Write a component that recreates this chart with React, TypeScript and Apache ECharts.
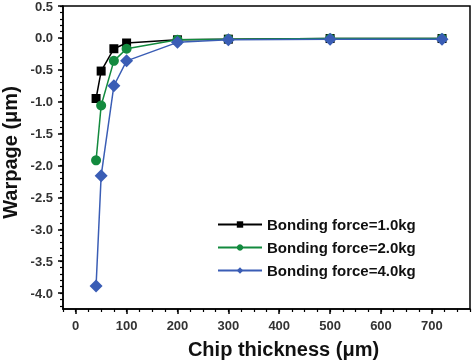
import React, { useEffect, useRef } from "react";
import * as echarts from "echarts";

const thickness = [40, 50, 75, 100, 200, 300, 500, 720];
const force10 = [-0.95, -0.52, -0.17, -0.08, -0.03, -0.02, -0.01, -0.01];
const force20 = [-1.92, -1.06, -0.36, -0.17, -0.03, -0.02, -0.01, -0.01];
const force40 = [-3.89, -2.16, -0.75, -0.36, -0.07, -0.03, -0.02, -0.02];
const seriesNames = ["Bonding force=1.0kg", "Bonding force=2.0kg", "Bonding force=4.0kg"];
const xMajor = [0, 100, 200, 300, 400, 500, 600, 700];
const yMajor = [0.5, 0.0, -0.5, -1.0, -1.5, -2.0, -2.5, -3.0, -3.5, -4.0];

const X_MIN = -25, X_MAX = 775, Y_MIN = -4.25, Y_MAX = 0.5;

const xMinor: number[] = [];
for (let i = -1; i <= 31; i++) xMinor.push(i * 25);
const yMinor: number[] = [];
for (let i = -42; i <= 5; i++) yMinor.push(Math.round(i) / 10);

const FONT = "'Liberation Sans', Arial, sans-serif";

export default function App() {
  const ref = useRef<HTMLDivElement>(null);
  useEffect(() => {
    if (!ref.current) return;
    const chart = echarts.init(ref.current, undefined, { renderer: "svg" });
    const mk = (ys: number[]) => thickness.map((x, i) => [x, ys[i]]);
    chart.setOption({
      animation: false,
      grid: {
        left: 63, right: 4, top: 6, bottom: 54,
        outerBoundsMode: "none", containLabel: false,
        show: true, borderColor: "#000", borderWidth: 1.5, backgroundColor: "transparent",
      },
      legend: {
        orient: "vertical",
        left: 212, top: 212,
        itemWidth: 44, itemHeight: 8, itemGap: 8,
        textStyle: { fontFamily: FONT, fontWeight: "bold", fontSize: 15, color: "#111" },
        data: seriesNames,
      },
      xAxis: [
        {
          type: "value", min: X_MIN, max: X_MAX, position: "bottom",
          splitLine: { show: false },
          axisLine: { onZero: false, lineStyle: { color: "#000", width: 1.5 } },
          axisTick: { show: true, inside: false, length: 5, customValues: xMajor, lineStyle: { color: "#000", width: 1.5 } },
          axisLabel: { customValues: xMajor, fontFamily: FONT, fontWeight: "bold", fontSize: 13, color: "#333", margin: 10 },
          name: "Chip thickness (\u03bcm)", nameLocation: "middle", nameGap: 30,
          nameTextStyle: { fontFamily: FONT, fontWeight: "bold", fontSize: 20, color: "#111", padding: [0, 0, 0, 34] },
        },
        {
          type: "value", min: X_MIN, max: X_MAX, position: "bottom",
          splitLine: { show: false },
          axisLine: { show: false, onZero: false },
          axisTick: { show: true, length: 3, customValues: xMinor, lineStyle: { color: "#000", width: 1.2 } },
          axisLabel: { show: false },
        },
      ],
      yAxis: [
        {
          type: "value", min: Y_MIN, max: Y_MAX, position: "left",
          splitLine: { show: false },
          axisLine: { onZero: false, lineStyle: { color: "#000", width: 1.5 } },
          axisTick: { show: true, length: 5, customValues: yMajor, lineStyle: { color: "#000", width: 1.5 } },
          axisLabel: {
            customValues: yMajor, fontFamily: FONT, fontWeight: "bold", fontSize: 13, color: "#333", margin: 10,
            formatter: (v: number) => v.toFixed(1),
          },
          name: "Warpage (\u03bcm)", nameLocation: "middle", nameGap: 37,
          nameTextStyle: { fontFamily: FONT, fontWeight: "bold", fontSize: 20, color: "#111", padding: [0, 0, 0, 10] },
        },
        {
          type: "value", min: Y_MIN, max: Y_MAX, position: "left",
          splitLine: { show: false },
          axisLine: { show: false, onZero: false },
          axisTick: { show: true, length: 3, customValues: yMinor, lineStyle: { color: "#000", width: 1.2 } },
          axisLabel: { show: false },
        },
      ],
      series: [
        {
          name: seriesNames[0], type: "line", data: mk(force10),
          symbol: "rect", symbolSize: 9,
          itemStyle: { color: "#000" }, lineStyle: { color: "#000", width: 1.5 },
        },
        {
          name: seriesNames[1], type: "line", data: mk(force20),
          symbol: "circle", symbolSize: 10,
          itemStyle: { color: "#138a3e" }, lineStyle: { color: "#138a3e", width: 1.5 },
        },
        {
          name: seriesNames[2], type: "line", data: mk(force40),
          symbol: "diamond", symbolSize: 13,
          itemStyle: { color: "#3a5db5" }, lineStyle: { color: "#3a5db5", width: 1.5 },
        },
      ],
    });
    return () => chart.dispose();
  }, []);
  return <div ref={ref} style={{ position: "fixed", left: 0, top: 0, width: 474, height: 363 }} />;
}
